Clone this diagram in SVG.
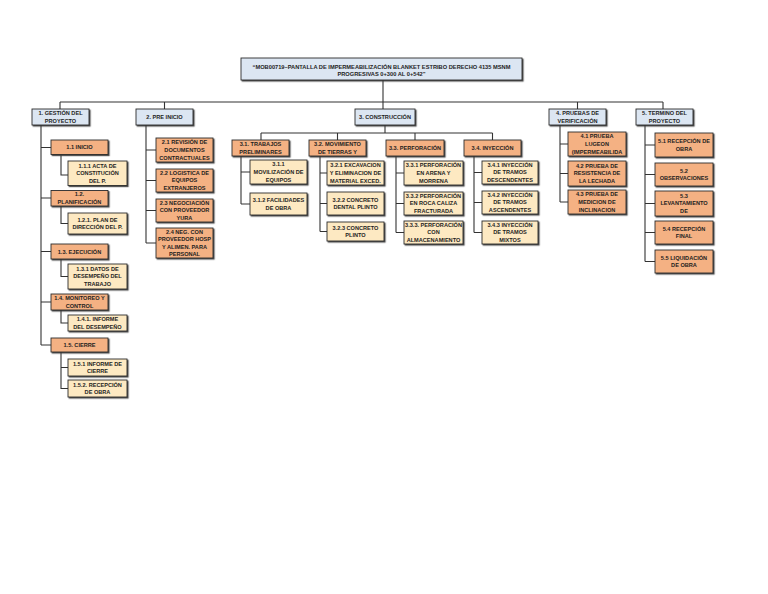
<svg xmlns="http://www.w3.org/2000/svg" width="768" height="594" viewBox="0 0 768 594">
<defs>
<filter id="sh" x="-10%" y="-10%" width="130%" height="140%">
<feDropShadow dx="1.2" dy="1.2" stdDeviation="0.4" flood-color="#3a3a3a" flood-opacity="0.9"/>
</filter>
<style>
rect{stroke:#2a2a2a;stroke-width:0.9;filter:url(#sh)}
.t rect{fill:#dce6f2}
.a rect{fill:#dce6f2}
.b rect{fill:#f4b183}
.c rect{fill:#fde9c2}
text{font-family:"Liberation Sans",Arial,sans-serif;font-weight:bold;font-size:5.6px;fill:#1e1e1e;text-anchor:middle}
.t text{font-size:5.7px}
#conn path{fill:none;stroke:#333;stroke-width:1.1}
</style>
</defs>
<rect width="768" height="594" fill="#ffffff" style="filter:none;stroke:none"/>
<g id="conn">
<path d="M383,80V109M60,102H663M60,102V109M164.5,102V109M577.5,102V109M663,102V109"/>
<path d="M41,125V345M41,147.5H51M41,198H51M41,251.5H51M41,302H51M41,345H51"/>
<path d="M61,154V175H68M61,206V223.5H68M61,259V276.5H68M61,310V323H68M61,352V388.5H68M61,367.5H68"/>
<path d="M146,125V243M146,150H156M146,180.5H156M146,210.5H156M146,243H156"/>
<path d="M385,125V133M261,133H492.5M261,133V140M337.5,133V140M415,133V140M492.5,133V140"/>
<path d="M241,156V204M241,172H250M241,204H250"/>
<path d="M320,156V231.5M320,173H327M320,203.5H327M320,231.5H327"/>
<path d="M396,156V232.5M396,173H404M396,203.5H404M396,232.5H404"/>
<path d="M474,156V232.5M474,172.5H482M474,202.5H482M474,232.5H482"/>
<path d="M560,125V202M560,144H568M560,173.5H568M560,202H568"/>
<path d="M645,125V261.5M645,145H655M645,174.5H655M645,203.5H655M645,232.5H655M645,261.5H655"/>
</g>
<g id="n0" class="t"><rect x="241" y="58" width="281" height="22"/><text><tspan x="381.5" y="68.5">“MOB00719–PANTALLA DE IMPERMEABILIZACIÓN BLANKET ESTRIBO DERECHO 4135 MSNM</tspan><tspan x="381.5" y="75.5">PROGRESIVAS 0+300 AL 0+542”</tspan></text></g>

<g id="n1" class="a"><rect x="32" y="109" width="57" height="16"/><text><tspan x="60.5" y="115.1">1. GESTIÓN DEL</tspan><tspan x="60.5" y="122.7">PROYECTO</tspan></text></g>
<g id="n1_1" class="b"><rect x="51" y="140" width="57" height="14.5"/><text><tspan x="79.5" y="149.2">1.1 INICIO</tspan></text></g>
<g id="n1_1_1" class="c"><rect x="68" y="161" width="59" height="24.5"/><text><tspan x="97.5" y="167.6">1.1.1 ACTA DE</tspan><tspan x="97.5" y="175.2">CONSTITUCIÓN</tspan><tspan x="97.5" y="182.8">DEL P.</tspan></text></g>
<g id="n1_2" class="b"><rect x="51" y="190.5" width="57" height="15.5"/><text><tspan x="79.5" y="196.4">1.2.</tspan><tspan x="79.5" y="204">PLANIFICACIÓN</tspan></text></g>
<g id="n1_2_1" class="c"><rect x="68" y="213" width="59" height="21"/><text><tspan x="97.5" y="221.6">1.2.1. PLAN DE</tspan><tspan x="97.5" y="229.2">DIRECCIÓN DEL P.</tspan></text></g>
<g id="n1_3" class="b"><rect x="51" y="244" width="57" height="15"/><text><tspan x="79.5" y="253.5">1.3. EJECUCIÓN</tspan></text></g>
<g id="n1_3_1" class="c"><rect x="68" y="264" width="59" height="25"/><text><tspan x="97.5" y="270.8">1.3.1 DATOS DE</tspan><tspan x="97.5" y="278.4">DESEMPEÑO DEL</tspan><tspan x="97.5" y="286">TRABAJO</tspan></text></g>
<g id="n1_4" class="b"><rect x="51" y="294" width="57" height="16"/><text><tspan x="79.5" y="300.1">1.4. MONITOREO Y</tspan><tspan x="79.5" y="307.7">CONTROL</tspan></text></g>
<g id="n1_4_1" class="c"><rect x="68" y="315" width="59" height="16"/><text><tspan x="97.5" y="321.1">1.4.1. INFORME</tspan><tspan x="97.5" y="328.7">DEL DESEMPEÑO</tspan></text></g>
<g id="n1_5" class="b"><rect x="51" y="338" width="57" height="14"/><text><tspan x="79.5" y="347">1.5. CIERRE</tspan></text></g>
<g id="n1_5_1" class="c"><rect x="68" y="359" width="59" height="17"/><text><tspan x="97.5" y="365.6">1.5.1 INFORME DE</tspan><tspan x="97.5" y="373.2">CIERRE</tspan></text></g>
<g id="n1_5_2" class="c"><rect x="68" y="380" width="59" height="17"/><text><tspan x="97.5" y="386.6">1.5.2. RECEPCIÓN</tspan><tspan x="97.5" y="394.2">DE OBRA</tspan></text></g>

<g id="n2" class="a"><rect x="136" y="109" width="57" height="16"/><text><tspan x="164.5" y="119">2. PRE INICIO</tspan></text></g>
<g id="n2_1" class="b"><rect x="156" y="138" width="57" height="24"/><text><tspan x="184.5" y="144.3">2.1 REVISIÓN DE</tspan><tspan x="184.5" y="151.9">DOCUMENTOS</tspan><tspan x="184.5" y="159.5">CONTRACTUALES</tspan></text></g>
<g id="n2_2" class="b"><rect x="156" y="169" width="57" height="23"/><text><tspan x="184.5" y="174.8">2.2 LOGISTICA DE</tspan><tspan x="184.5" y="182.4">EQUIPOS</tspan><tspan x="184.5" y="190">EXTRANJEROS</tspan></text></g>
<g id="n2_3" class="b"><rect x="156" y="199" width="57" height="23"/><text><tspan x="184.5" y="204.8">2.3 NEGOCIACIÓN</tspan><tspan x="184.5" y="212.4">CON PROVEEDOR</tspan><tspan x="184.5" y="220">YURA</tspan></text></g>
<g id="n2_4" class="b"><rect x="156" y="228" width="57" height="30"/><text><tspan x="184.5" y="233.5">2.4 NEG. CON</tspan><tspan x="184.5" y="241.1">PROVEEDOR HOSP</tspan><tspan x="184.5" y="248.7">Y ALIMEN. PARA</tspan><tspan x="184.5" y="256.3">PERSONAL</tspan></text></g>

<g id="n3" class="a"><rect x="355" y="109" width="60" height="16"/><text><tspan x="385" y="119">3. CONSTRUCCIÓN</tspan></text></g>
<g id="n3_1" class="b"><rect x="232" y="140" width="57" height="16"/><text><tspan x="260.5" y="146.1">3.1. TRABAJOS</tspan><tspan x="260.5" y="153.7">PRELIMINARES</tspan></text></g>
<g id="n3_2" class="b"><rect x="309" y="140" width="57" height="16"/><text><tspan x="337.5" y="146.1">3.2. MOVIMIENTO</tspan><tspan x="337.5" y="153.7">DE TIERRAS Y</tspan></text></g>
<g id="n3_3" class="b"><rect x="386" y="140" width="58" height="16"/><text><tspan x="415" y="150">3.3. PERFORACIÓN</tspan></text></g>
<g id="n3_4" class="b"><rect x="464" y="140" width="57" height="16"/><text><tspan x="492.5" y="150">3.4. INYECCIÓN</tspan></text></g>
<g id="n3_1_1" class="c"><rect x="250" y="160" width="57" height="24"/><text><tspan x="278.5" y="166.3">3.1.1</tspan><tspan x="278.5" y="173.9">MOVILIZACIÓN DE</tspan><tspan x="278.5" y="181.5">EQUIPOS</tspan></text></g>
<g id="n3_1_2" class="c"><rect x="250" y="193" width="57" height="22"/><text><tspan x="278.5" y="202.1">3.1.2 FACILIDADES</tspan><tspan x="278.5" y="209.7">DE OBRA</tspan></text></g>
<g id="n3_2_1" class="c"><rect x="327" y="161" width="57" height="24"/><text><tspan x="355.5" y="167.3">3.2.1 EXCAVACION</tspan><tspan x="355.5" y="174.9">Y ELIMINACION DE</tspan><tspan x="355.5" y="182.5">MATERIAL EXCED.</tspan></text></g>
<g id="n3_2_2" class="c"><rect x="327" y="192" width="57" height="23"/><text><tspan x="355.5" y="201.6">3.2.2 CONCRETO</tspan><tspan x="355.5" y="209.2">DENTAL PLINTO</tspan></text></g>
<g id="n3_2_3" class="c"><rect x="327" y="222" width="57" height="19"/><text><tspan x="355.5" y="229.6">3.2.3 CONCRETO</tspan><tspan x="355.5" y="237.2">PLINTO</tspan></text></g>
<g id="n3_3_1" class="c"><rect x="404" y="161" width="59" height="24"/><text><tspan x="433.5" y="167.3">3.3.1 PERFORACIÓN</tspan><tspan x="433.5" y="174.9">EN ARENA Y</tspan><tspan x="433.5" y="182.5">MORRENA</tspan></text></g>
<g id="n3_3_2" class="c"><rect x="404" y="192" width="59" height="23"/><text><tspan x="433.5" y="197.8">3.3.2 PERFORACIÓN</tspan><tspan x="433.5" y="205.4">EN ROCA CALIZA</tspan><tspan x="433.5" y="213">FRACTURADA</tspan></text></g>
<g id="n3_3_3" class="c"><rect x="404" y="221" width="59" height="23"/><text><tspan x="433.5" y="226.8">3.3.3. PERFORACIÓN</tspan><tspan x="433.5" y="234.4">CON</tspan><tspan x="433.5" y="242">ALMACENAMIENTO</tspan></text></g>
<g id="n3_4_1" class="c"><rect x="482" y="161" width="56" height="23"/><text><tspan x="510" y="166.8">3.4.1 INYECCIÓN</tspan><tspan x="510" y="174.4">DE TRAMOS</tspan><tspan x="510" y="182">DESCENDENTES</tspan></text></g>
<g id="n3_4_2" class="c"><rect x="482" y="191" width="56" height="23"/><text><tspan x="510" y="196.8">3.4.2 INYECCIÓN</tspan><tspan x="510" y="204.4">DE TRAMOS</tspan><tspan x="510" y="212">ASCENDENTES</tspan></text></g>
<g id="n3_4_3" class="c"><rect x="482" y="221" width="56" height="23"/><text><tspan x="510" y="226.8">3.4.3 INYECCIÓN</tspan><tspan x="510" y="234.4">DE TRAMOS</tspan><tspan x="510" y="242">MIXTOS</tspan></text></g>

<g id="n4" class="a"><rect x="549" y="109" width="57" height="16"/><text><tspan x="577.5" y="115.1">4. PRUEBAS DE</tspan><tspan x="577.5" y="122.7">VERIFICACIÓN</tspan></text></g>
<g id="n4_1" class="b"><rect x="568" y="132" width="58" height="24"/><text><tspan x="597" y="138.3">4.1 PRUEBA</tspan><tspan x="597" y="145.9">LUGEON</tspan><tspan x="597" y="153.5">(IMPERMEABILIDA</tspan></text></g>
<g id="n4_2" class="b"><rect x="568" y="161" width="58" height="25"/><text><tspan x="597" y="167.8">4.2 PRUEBA DE</tspan><tspan x="597" y="175.4">RESISTENCIA DE</tspan><tspan x="597" y="183">LA LECHADA</tspan></text></g>
<g id="n4_3" class="b"><rect x="568" y="190" width="58" height="24"/><text><tspan x="597" y="196.3">4.3 PRUEBA DE</tspan><tspan x="597" y="203.9">MEDICION DE</tspan><tspan x="597" y="211.5">INCLINACION</tspan></text></g>

<g id="n5" class="a"><rect x="636" y="109" width="57" height="16"/><text><tspan x="664.5" y="115.1">5. TERMINO DEL</tspan><tspan x="664.5" y="122.7">PROYECTO</tspan></text></g>
<g id="n5_1" class="b"><rect x="655" y="133" width="58" height="24"/><text><tspan x="684" y="143.1">5.1 RECEPCIÓN DE</tspan><tspan x="684" y="150.7">OBRA</tspan></text></g>
<g id="n5_2" class="b"><rect x="655" y="163" width="58" height="23"/><text><tspan x="684" y="172.6">5.2</tspan><tspan x="684" y="180.2">OBSERVACIONES</tspan></text></g>
<g id="n5_3" class="b"><rect x="655" y="191" width="58" height="25"/><text><tspan x="684" y="197.8">5.3</tspan><tspan x="684" y="205.4">LEVANTAMIENTO</tspan><tspan x="684" y="213">DE</tspan></text></g>
<g id="n5_4" class="b"><rect x="655" y="221" width="58" height="23"/><text><tspan x="684" y="230.6">5.4 RECEPCIÓN</tspan><tspan x="684" y="238.2">FINAL</tspan></text></g>
<g id="n5_5" class="b"><rect x="655" y="250" width="58" height="23"/><text><tspan x="684" y="259.6">5.5 LIQUIDACIÓN</tspan><tspan x="684" y="267.2">DE OBRA</tspan></text></g>
</svg>
